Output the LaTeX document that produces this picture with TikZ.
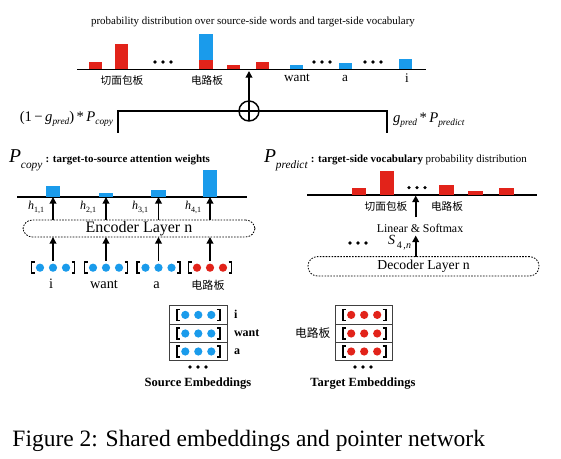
\documentclass[tikz,border=0pt]{standalone}
\usepackage{fontspec}
\setmainfont{Liberation Serif}
\newfontfamily\cjk{Noto Sans CJK SC}
\usetikzlibrary{arrows.meta}
\definecolor{bblue}{RGB}{26,155,235}
\definecolor{rred}{RGB}{226,35,26}
\newcommand\fs[1]{\fontsize{#1}{#1}\selectfont}
\newcommand\mybar[4]{\fill[#4] (#1,69.5) rectangle (#2,#3);}
\newcommand\threedots[2]{\foreach \dd in {-8,0,8}{\fill (#1+\dd,#2) circle (1.8);}}
\newcommand\embgroup[3]{%
  \foreach \dd in {-13,0,13}{\fill[#3] (#1+\dd,#2) circle (4.1);}
  \draw[line width=1.3pt] (#1-18.5,#2-5.5) -- (#1-21.5,#2-5.5) -- (#1-21.5,#2+5.5) -- (#1-18.5,#2+5.5);
  \draw[line width=1.3pt] (#1+18.5,#2-5.5) -- (#1+21.5,#2-5.5) -- (#1+21.5,#2+5.5) -- (#1+18.5,#2+5.5);}
\begin{document}
\begin{tikzpicture}[x=0.75pt,y=-0.75pt,
  every node/.style={inner sep=0pt, outer sep=0pt},
  baseln/.style={line width=1.3pt},
  arr/.style={line width=1.4pt,-{Triangle[length=5pt,width=5pt]}},
  dbox/.style={draw, rounded corners=7pt, dash pattern=on 1.2pt off 1pt, line width=0.6pt},
  gate/.style={line width=1.1pt},
  emb/.style={draw=black!75, line width=0.8pt}]
\useasboundingbox (0,0) rectangle (561,459);

% ---------- top combined distribution ----------
\node (title) at (253,22) {\fs{8.2}probability distribution over source-side words and target-side vocabulary};
\draw[baseln] (77,69.5) -- (426,69.5);
\mybar{89}{102}{62.3}{rred}
\mybar{115}{128}{44}{rred}
\threedots{163}{62}
\fill[bblue] (199,60) rectangle (213,34);
\fill[rred] (199,69.5) rectangle (213,60);
\mybar{227}{240}{65.3}{rred}
\mybar{256}{269}{62.3}{rred}
\mybar{290}{303}{65.3}{bblue}
\threedots{322}{62}
\mybar{339}{352}{63}{bblue}
\threedots{373}{62}
\mybar{399}{412}{58.7}{bblue}
\node (tl1) at (122,80) {\fs{8}\cjk 切面包板};
\node (tl2) at (207,80) {\fs{8}\cjk 电路板};
\node[anchor=base] (tl3) at (297,81.5) {\fs{9.9}want};
\node[anchor=base] (tl4) at (345,81.5) {\fs{9.9}a};
\node[anchor=base] (tl5) at (407,83) {\fs{9.9}i};

\node[circle, draw, line width=1.1pt, minimum size=15pt] (plus) at (249,111) {};
\draw[gate] (plus.north) -- (plus.south) (plus.west) -- (plus.east);
\coordinate (topin) at (249,71);
\draw[arr] (plus.north) -- (topin);
\coordinate (gl) at (118,133);
\coordinate (gr) at (387,133);
\draw[gate] (gl) |- (plus.west);
\draw[gate] (plus.east) -| (gr);
\node[anchor=base east] (gcopy) at (113,122) {\fs{11}(1\,−\,\textit{g}\raisebox{-0.35ex}{\fs{7}\itshape pred})\,*\,\textit{P}\raisebox{-0.35ex}{\fs{7}\itshape copy}};
\node[anchor=base west] (gpred) at (393,123) {\fs{11}\textit{g}\raisebox{-0.35ex}{\fs{7}\itshape pred}\,*\,\textit{P}\raisebox{-0.35ex}{\fs{7}\itshape predict}};

% ---------- P_copy (encoder side) ----------
\node[anchor=base west] (pcopy) at (9,163) {\fs{14.7}\textit{P}\raisebox{-0.6ex}{\fs{8.5}\itshape copy}\,\fs{8.2}\textbf{: target-to-source attention weights}};
\draw[baseln] (17,196.7) -- (247,196.7);
\fill[bblue] (46,196.7) rectangle (60,185.7);
\fill[bblue] (99,196.7) rectangle (113,192.7);
\fill[bblue] (151,196.7) rectangle (166,190);
\fill[bblue] (203,196.7) rectangle (217,170);
\node[draw, dbox, minimum width=174pt, minimum height=12.75pt] (enc) at (139,228.5) {\fs{12}Encoder Layer n};
\foreach \i/\x/\w/\c in {1/53/i/bblue,2/106/want/bblue,3/158.5/a/bblue}{
  \embgroup{\x}{267.7}{\c}
  \coordinate (eg\i) at (\x,261);
  \coordinate (eh\i) at (\x,197);
  \draw[arr] (eg\i) -- (eg\i |- enc.south);
  \draw[arr] (eh\i |- enc.north) -- (eh\i);
  \node[anchor=base] (ew\i) at (\x-2,289) {\fs{10.8}\w};
}
\embgroup{210}{267.7}{rred}
\coordinate (eg4) at (210,261);
\coordinate (eh4) at (210,197);
\draw[arr] (eg4) -- (eg4 |- enc.south);
\draw[arr] (eh4 |- enc.north) -- (eh4);
\node (ew4) at (208,285.5) {\fs{8.3}\cjk 电路板};
\foreach \i/\x in {1/36,2/88,3/140,4/193}{
  \node (h\i) at (\x,207.5) {\fs{9}\textit{h}\raisebox{-0.4ex}{\fs{6}\i,1}};
}

% ---------- P_predict (decoder side) ----------
\node[anchor=base west] (ppred) at (264,163) {\fs{14.7}\textit{P}\raisebox{-0.6ex}{\fs{8.5}\itshape predict}\,\fs{8.2}\textbf{: target-side vocabulary} probability distribution};
\draw[baseln] (307,195) -- (537,195);
\fill[rred] (352,195) rectangle (366,188.3);
\fill[rred] (380,195) rectangle (394,170.7);
\threedots{417}{187.7}
\fill[rred] (439,195) rectangle (454,185);
\fill[rred] (468,195) rectangle (483,191);
\fill[rred] (499,195) rectangle (514,188.3);
\node (pl1) at (386,206) {\fs{8}\cjk 切面包板};
\node (pl2) at (447,206) {\fs{8}\cjk 电路板};
\node (lin) at (420,228) {\fs{8.9}Linear \& Softmax};
\coordinate (pin) at (415.7,195.5);
\draw[arr] (415.7,217.5) -- (pin);
\node[draw, dbox, minimum width=173.25pt, minimum height=14.5pt] (dec) at (423.5,266.3) {\fs{10.3}Decoder Layer n};
\coordinate (sout) at (415.7,235.5);
\draw[arr] (sout |- dec.north) -- (sout);
\node[anchor=base east] (s4n) at (411,245) {\fs{10.5}\textit{S}\raisebox{-0.5ex}{\fs{7.5}\,4\,,\textit{n}}};
\threedots{358}{243}

% ---------- embedding tables ----------
\foreach \r/\y/\w in {1/305.7/i,2/324.3/want,3/342.3/a}{
  \draw[emb] (169.3,\y) rectangle (227.3,\y+18.4);
  \embgroup{198.3}{\y+9.2}{bblue}
  \draw[emb] (335.7,\y) rectangle (392.7,\y+18.4);
  \embgroup{364.2}{\y+9.2}{rred}
}
\node[anchor=base west] (sw1) at (234,319) {\fs{9}\textbf{i}};
\node[anchor=base west] (sw2) at (234,337) {\fs{9}\textbf{want}};
\node[anchor=base west] (sw3) at (234,355) {\fs{9}\textbf{a}};
\node (tw) at (312.7,333) {\fs{8.8}\cjk 电路板};
\threedots{198}{367}
\threedots{363}{367}
\node (srcemb) at (198,384) {\fs{9.4}\textbf{Source Embeddings}};
\node (tgtemb) at (363,384) {\fs{9.4}\textbf{Target Embeddings}};

% ---------- caption ----------
\node[anchor=base west] (cap) at (12.5,447) {\fs{17.6}Figure 2: Shared embeddings and pointer network};
\end{tikzpicture}
\end{document}
